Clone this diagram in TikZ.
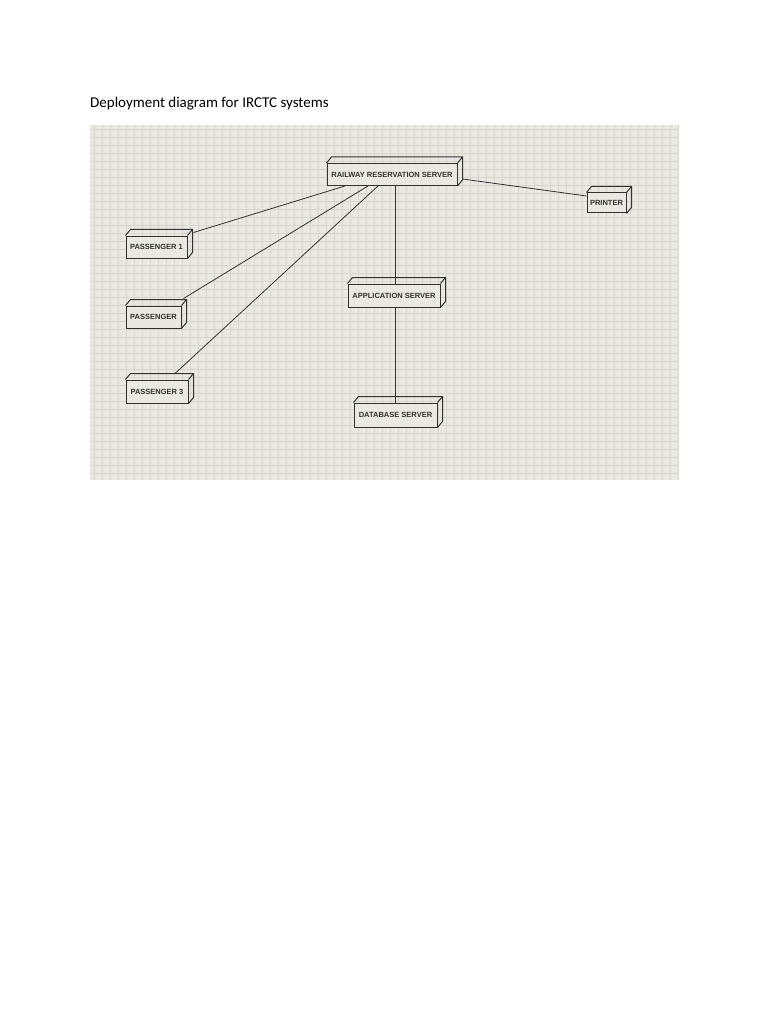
\documentclass[tikz,border=0pt]{standalone}
\usepackage{fontspec}
\setmainfont{Carlito}
\newfontfamily\boxfont{Liberation Sans}
\usetikzlibrary{positioning}

\definecolor{photo}{RGB}{234,232,226}
\definecolor{gridline}{RGB}{216,213,205}
\definecolor{ink}{RGB}{50,50,48}

\tikzset{
  devnode/.style={draw=ink, line width=1pt, fill=photo, rectangle, minimum height=22,
    inner xsep=2pt, font=\boxfont\bfseries\fontsize{7.5}{8}\selectfont, text=ink},
  boxline/.style={draw=ink, line width=1pt},
  link/.style={draw=ink, line width=0.8pt}
}

\begin{document}
\begin{tikzpicture}[x=1pt,y=-1pt]
\useasboundingbox (0,0) rectangle (768,1024);

% title
\node[anchor=base west, inner sep=0pt, font=\fontsize{15}{17}\selectfont] (title) at (90,108) {Deployment diagram for IRCTC systems};

% photo of the grid sheet
\fill[photo] (90,125) rectangle (678,480);
\foreach \gx in {94,102,...,678}
  \draw[gridline, line width=0.5pt] (\gx,125) -- (\gx,480);
\foreach \gy in {129,137,...,480}
  \draw[gridline, line width=0.5pt] (90,\gy) -- (678,\gy);

% nodes
\node[devnode, minimum width=130] (rrs) at (392,174.5) {RAILWAY RESERVATION SERVER};
\node[devnode, minimum width=39, minimum height=20] (printer) at (606.5,203) {PRINTER};
\node[devnode, minimum width=92, minimum height=23] (app) at (394,295.5) {APPLICATION SERVER};
\node[devnode, minimum width=83, minimum height=24] (db) at (395.5,415) {DATABASE SERVER};
\node[devnode, minimum width=61] (p1) at (156.5,247) {PASSENGER 1};
\node[devnode, minimum width=55] (p2) at (153.5,317) {PASSENGER};
\node[devnode, minimum width=62, minimum height=23] (p3) at (157,391.5) {PASSENGER 3};

% 3d faces
\foreach \n in {rrs,printer,app,db,p1,p2,p3}
  \draw[boxline] (\n.north west) -- ++(5,-6) -| ([shift={(5,-6)}]\n.south east) -- (\n.south east)
    (\n.north east) -- ++(5,-6);

% links
\draw[link] ([shift={(-47,0)}]rrs.south) -- ([shift={(6,-3)}]p1.north east);
\draw[link] ([shift={(-24,0)}]rrs.south) -- ([shift={(2,-7)}]p2.north east);
\draw[link] ([shift={(-14,0)}]rrs.south) -- ([shift={(18,-6)}]p3.north);
\draw[link] (app.north -| db.north) -- (db.north |- rrs.south);
\draw[link] (app.south -| db.north) -- (db.north);
\draw[link] ([shift={(5,4.5)}]rrs.east) -- ([shift={(0,-7)}]printer.west);
\end{tikzpicture}
\end{document}
